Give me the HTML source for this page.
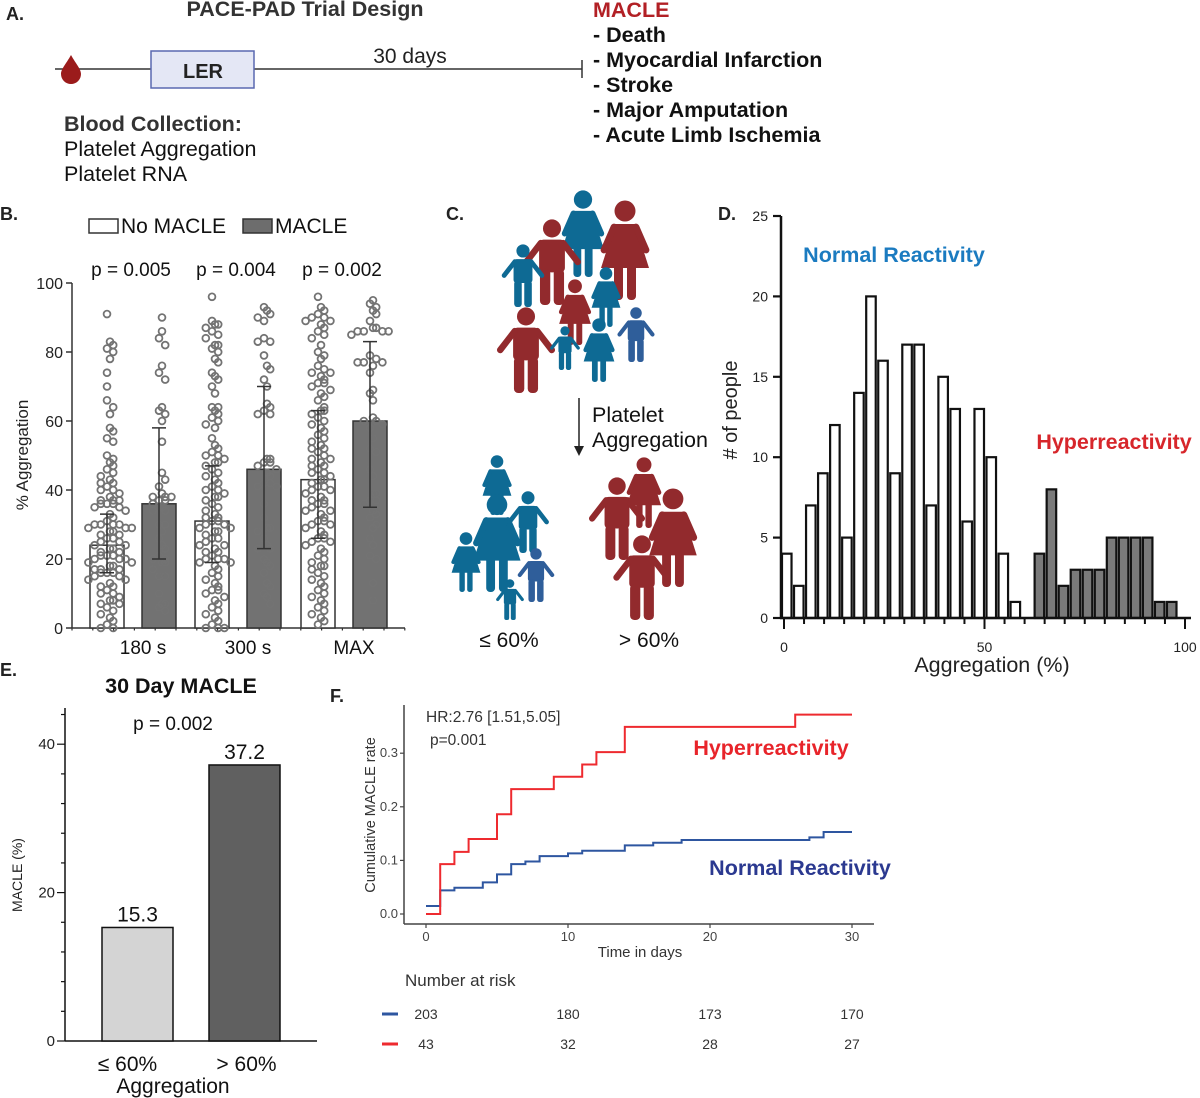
<!DOCTYPE html>
<html><head><meta charset="utf-8"><style>
html,body{margin:0;padding:0;background:#fff}
svg{display:block;font-family:"Liberation Sans",sans-serif}
</style></head><body>
<svg id="fig" width="1200" height="1098" viewBox="0 0 1200 1098" xmlns="http://www.w3.org/2000/svg">
<g id="panelA">
<text x="6" y="20" font-size="18" font-weight="bold" fill="#222">A.</text>
<text x="305" y="16" font-size="21.5" font-weight="bold" fill="#333" text-anchor="middle">PACE-PAD Trial Design</text>
<line x1="55" y1="69" x2="582" y2="69" stroke="#333" stroke-width="1.5"/>
<line x1="582" y1="60" x2="582" y2="78" stroke="#333" stroke-width="1.5"/>
<path d="M71,55 C66,64 61,69 61,74 A10,10 0 0 0 81,74 C81,69 76,64 71,55 Z" fill="#9b1b1b"/>
<rect x="151" y="51" width="103" height="37" fill="#e4e7f5" stroke="#5a68b0" stroke-width="1.5"/>
<text x="203" y="78" font-size="20" font-weight="bold" fill="#222" text-anchor="middle">LER</text>
<text x="410" y="63" font-size="21" fill="#222" text-anchor="middle">30 days</text>
<text x="593" y="17" font-size="21.5" font-weight="bold" fill="#b22025">MACLE</text>
<g font-size="21.5" font-weight="bold" fill="#111">
<text x="593" y="42">- Death</text><text x="593" y="67">- Myocardial Infarction</text><text x="593" y="92">- Stroke</text><text x="593" y="117">- Major Amputation</text><text x="593" y="142">- Acute Limb Ischemia</text></g>
<text x="64" y="131" font-size="21.5" font-weight="bold" fill="#333">Blood Collection:</text>
<text x="64" y="156" font-size="21.5" fill="#111">Platelet Aggregation</text>
<text x="64" y="181" font-size="21.5" fill="#111">Platelet RNA</text>
</g>
<g id="panelB"></g>
<g id="panelC">
<text x="446" y="220" font-size="18" font-weight="bold" fill="#222">C.</text>
<line x1="579" y1="398" x2="579" y2="450" stroke="#222" stroke-width="1.5"/>
<path d="M574,446 L584,446 L579,456 Z" fill="#222"/>
<text x="592" y="422" font-size="21.5" fill="#111">Platelet</text>
<text x="592" y="447" font-size="21.5" fill="#111">Aggregation</text>
<text x="509" y="647" font-size="21" fill="#111" text-anchor="middle">≤ 60%</text>
<text x="649" y="647" font-size="21" fill="#111" text-anchor="middle">&gt; 60%</text>
</g>
<g id="panelD"></g>
<g id="panelE"></g>
<g id="panelF"></g>
</svg>
<script>
// ---------- Panel B data ----------
const bCategories = ["180 s","300 s","MAX"];
const bMeansNo = [24,31,43];
const bMeansMacle = [36,46,60];
const bErrNo = [[16,33],[19,47],[26,63]];
const bErrMacle = [[20,58],[23,70],[35,83]];
const bPvalues = ["p = 0.005","p = 0.004","p = 0.002"];
const bYTicks = [0,20,40,60,80,100];
const dotsNo180 = [91,83,82,81,80,78,74,70,66,64,62,58,57,55,54,50,49,48,47,46,45,44,43,42,42,41,40,40,39,38,37,37,37,36,36,36,35,35,34,33,32,31,30,30,30,30,29,29,29,28,28,27,27,26,26,25,25,24,24,23,23,22,22,21,21,21,20,20,20,19,19,18,18,17,17,17,16,16,16,15,15,14,14,13,12,12,11,10,10,9,8,8,7,7,6,5,4,3,2,1,0,0];
const dotsMacle180 = [90,86,84,82,76,74,72,64,63,62,60,54,45,43,41,39,38,38,38,37,37,36,35,34,34,30,30,28,26,24,23,21,20,20,19,19,17,15,15,10,7,7,6,5];
const dotsNo300 = [96,89,88,88,87,86,85,84,82,82,81,80,78,77,74,73,72,70,68,64,64,63,62,61,60,59,58,55,53,52,51,50,50,49,48,48,47,46,45,44,43,42,41,40,40,39,38,38,37,36,35,34,33,32,32,31,31,30,30,29,29,28,28,27,26,26,25,24,24,23,22,22,21,20,20,20,19,19,18,17,16,15,14,13,12,11,11,10,9,8,7,6,5,4,3,2,1,0,0,0];
const dotsMacle300 = [93,92,91,90,89,84,83,83,79,76,75,72,70,65,64,63,62,62,49,49,48,48,47,46,45,44,42,42,41,41,36,32,29,29,28,26,24,23,23,20,19,18,16,13,12,10,9,7];
const dotsNoMax = [96,93,92,91,90,90,89,89,88,87,86,85,84,82,80,79,78,76,75,74,74,73,72,71,71,70,69,68,67,66,64,63,63,62,61,60,59,58,57,56,55,54,53,52,52,51,50,49,49,48,47,47,46,45,45,44,43,43,42,41,41,40,40,39,38,37,37,36,36,35,34,34,33,32,31,31,30,30,29,28,27,26,26,25,25,24,23,22,21,20,19,18,18,17,16,15,14,13,12,11,10,9,8,7,6,5,4,3,2,1];
const dotsMacleMax = [95,94,93,92,91,89,87,87,86,86,86,86,85,79,78,77,77,77,76,74,69,68,66,61,60,60,59,58,55,52,51,46,44,39,39,37,37,36,34,33,32,30,29,26,24,21,20,13,8];
// ---------- Panel D data ----------
const dBinStart = -0.75, dBinWidth = 3;
const dCountsNormal = [4,2,7,9,12,5,14,20,16,9,17,17,7,15,13,6,13,10,4,1,0];
const dCountsHyper = [4,8,2,3,3,3,5,5,5,5,1,1];
const dYTicks = [0,5,10,15,20,25];
const dXTicks = [0,50,100];
// ---------- Panel E data ----------
const eCategories = ["≤ 60%","> 60%"];
const eValues = [15.3,37.2];
const eYTicks = [0,20,40];
// ---------- Panel F data ----------
const fRedT = [0,1,2,3,5,6,9,11,12,14,26,30];
const fRedV = [0,0.093,0.116,0.14,0.186,0.233,0.256,0.279,0.302,0.349,0.372,0.372];
const fBlueT = [0,1,2,4,5,6,7,8,10,11,14,16,18,27,28,30];
const fBlueV = [0.015,0.044,0.049,0.059,0.074,0.093,0.098,0.108,0.113,0.118,0.128,0.133,0.138,0.143,0.153,0.153];
const fXTicks = [0,10,20,30];
const fYTicks = [0,0.1,0.2,0.3];
const fRiskTimes = [0,10,20,30];
const fRiskNormal = [203,180,173,170];
const fRiskHyper = [43,32,28,27];

const NS="http://www.w3.org/2000/svg";
function mk(parent,tag,attrs,text){const e=document.createElementNS(NS,tag);for(const k in attrs)e.setAttribute(k,attrs[k]);if(text!==undefined)e.textContent=text;parent.appendChild(e);return e;}

// ===== Panel B =====
(function(){
const g=document.getElementById('panelB');
const y=v=>628-v*3.45;
const ax=72, axEnd=405;
const groupX=[[90,142],[195,247],[301,353]], bw=34;
let t;
t=mk(g,'text',{x:0,y:220,'font-size':18,'font-weight':'bold',fill:'#222'},'B.');


t=mk(g,'rect',{x:89,y:219,width:29,height:14,fill:'#fff',stroke:'#333','stroke-width':1.5});


t=mk(g,'text',{x:121,y:233,'font-size':21,fill:'#111'},'No MACLE');


t=mk(g,'rect',{x:243,y:219,width:29,height:14,fill:'#6d6d6d',stroke:'#333','stroke-width':1.5});


t=mk(g,'text',{x:275,y:233,'font-size':21,fill:'#111'},'MACLE');


t=mk(g,'line',{x1:ax,y1:y(100),x2:ax,y2:y(0),stroke:'#333','stroke-width':1.5});


t=mk(g,'line',{x1:ax,y1:y(0),x2:axEnd,y2:y(0),stroke:'#333','stroke-width':1.5});


for(let i=0;i<=16;i++){t=mk(g,'line',{x1:ax+i*20.8,y1:y(0),x2:ax+i*20.8,y2:y(0)+2.5,stroke:'#333','stroke-width':1.2});

}
bYTicks.forEach(v=>{
t=mk(g,'line',{x1:ax-6,y1:y(v),x2:ax,y2:y(v),stroke:'#333','stroke-width':1.5});


t=mk(g,'text',{x:ax-9,y:y(v)+6,'font-size':16,fill:'#222','text-anchor':'end'},String(v));


});
t=mk(g,'text',{x:28,y:455,'font-size':17,fill:'#222','text-anchor':'middle',transform:'rotate(-90 28 455)'},'% Aggregation');


const allDots=[[dotsNo180,dotsMacle180],[dotsNo300,dotsMacle300],[dotsNoMax,dotsMacleMax]];
function swarm(vals,cx,name,binW){
const bins={};
vals.forEach(v=>{const k=Math.round(v/binW);bins[k]=(bins[k]||0)+1;const n=bins[k]-1;
const off=(n%2?1:-1)*Math.ceil(n/2)*6.2;
const c=mk(g,'circle',{cx:cx+off+(n===0&&k%2?3:0),cy:y(v),r:3.4,fill:'none',stroke:'#737373','stroke-width':1.8});

});
}
bCategories.forEach((c,i)=>{
const [xn,xm]=groupX[i];
t=mk(g,'rect',{x:xn,y:y(bMeansNo[i]),width:bw,height:y(0)-y(bMeansNo[i]),fill:'#fff',stroke:'#333','stroke-width':1.5});


t=mk(g,'rect',{x:xm,y:y(bMeansMacle[i]),width:bw,height:y(0)-y(bMeansMacle[i]),fill:'#727272',stroke:'#333','stroke-width':1.5});


swarm(allDots[i][0],xn+bw/2,'dot-no-macle',2.5);
swarm(allDots[i][1],xm+bw/2,'dot-macle',2.6);
[[xn,bErrNo[i]],[xm,bErrMacle[i]]].forEach(([x0,e])=>{
const cx=x0+bw/2;
t=mk(g,'path',{d:`M${cx},${y(e[0])}V${y(e[1])}M${cx-7},${y(e[0])}H${cx+7}M${cx-7},${y(e[1])}H${cx+7}`,stroke:'#333','stroke-width':1.5,fill:'none'});


});
t=mk(g,'text',{x:(xn+xm+bw)/2+10,y:654,'font-size':19,fill:'#111','text-anchor':'middle'},c);


t=mk(g,'text',{x:(xn+xm+bw)/2-2,y:276,'font-size':19,fill:'#111','text-anchor':'middle'},bPvalues[i]);


});
})();

// ===== Panel C people =====
(function(){
const g=document.getElementById('panelC');
const T='#0e6a94',R='#922a2d',B='#2f5e9a';
const people=[
[583,190,87,'w',T],[552,219,86,'m',R],[625,200,100,'w',R],[523,244,63,'m',T],[575,279,66,'w',R],[606,267,60,'w',T],
[526,307,86,'m',R],[565,326,44,'m',T],[599,318,64,'w',T],[636,307,55,'m',B],
[497,455,60,'w',T],[497,494,98,'w',T],[528,491,62,'m',T],[466,532,60,'w',T],[536,548,54,'m',B],[510,579,41,'m',T],
[617,477,83,'m',R],[644,457,71,'w',R],[673,488,99,'w',R],[642,535,85,'m',R]];
people.forEach(p=>{
const [cx,top,h,type,col]=p;
const pg=mk(g,'g',{fill:col,stroke:col});


mk(pg,'circle',{cx:cx,cy:top+h*0.11,r:h*0.105,stroke:'none'});
const sw=h*0.075;
if(type==='m'){
mk(pg,'rect',{x:cx-h*0.15,y:top+h*0.24,width:h*0.3,height:h*0.38,rx:h*0.05,stroke:'none'});
mk(pg,'path',{d:`M${cx-h*0.13},${top+h*0.28}L${cx-h*0.3},${top+h*0.5}M${cx+h*0.13},${top+h*0.28}L${cx+h*0.3},${top+h*0.5}`,'stroke-width':sw,'stroke-linecap':'round',fill:'none'});
mk(pg,'rect',{x:cx-h*0.14,y:top+h*0.58,width:h*0.12,height:h*0.42,rx:h*0.05,stroke:'none'});
mk(pg,'rect',{x:cx+h*0.02,y:top+h*0.58,width:h*0.12,height:h*0.42,rx:h*0.05,stroke:'none'});
}else{
mk(pg,'path',{d:`M${cx-h*0.1},${top+h*0.24}L${cx+h*0.1},${top+h*0.24}L${cx+h*0.24},${top+h*0.68}L${cx-h*0.24},${top+h*0.68}Z`,stroke:'none'});
mk(pg,'path',{d:`M${cx-h*0.11},${top+h*0.27}L${cx-h*0.21},${top+h*0.5}M${cx+h*0.11},${top+h*0.27}L${cx+h*0.21},${top+h*0.5}`,'stroke-width':sw*0.9,'stroke-linecap':'round',fill:'none'});
mk(pg,'rect',{x:cx-h*0.11,y:top+h*0.64,width:h*0.09,height:h*0.36,rx:h*0.04,stroke:'none'});
mk(pg,'rect',{x:cx+h*0.02,y:top+h*0.64,width:h*0.09,height:h*0.36,rx:h*0.04,stroke:'none'});
}
});
})();

// ===== Panel D =====
(function(){
const g=document.getElementById('panelD');
const x=v=>784+v*4.01, y=v=>618-v*16.08;
let t;
t=mk(g,'text',{x:718,y:220,'font-size':18,'font-weight':'bold',fill:'#222'},'D.');


const all=dCountsNormal.map(c=>[c,'n']).concat(dCountsHyper.map(c=>[c,'h']));
all.forEach(([c,type],i)=>{
const x0=x(dBinStart+i*dBinWidth), x1=x(dBinStart+(i+1)*dBinWidth);
t=mk(g,'rect',{x:x0+1,y:y(c),width:x1-x0-2.5,height:y(0)-y(c),fill:type==='n'?'#fff':'#7a7a7a',stroke:'#111','stroke-width':2.2});


});
t=mk(g,'line',{x1:781,y1:y(25),x2:781,y2:y(0)+1,stroke:'#111','stroke-width':2.5});


t=mk(g,'line',{x1:780,y1:y(0),x2:1191,y2:y(0),stroke:'#111','stroke-width':2.5});


dYTicks.forEach(v=>{
t=mk(g,'line',{x1:773,y1:y(v),x2:781,y2:y(v),stroke:'#111','stroke-width':2.2});


t=mk(g,'text',{x:768,y:y(v)+5,'font-size':14,fill:'#222','text-anchor':'end'},String(v));


});
for(let v=0;v<=100;v+=5){
t=mk(g,'line',{x1:x(v),y1:y(0),x2:x(v),y2:y(0)+(v%50?6:11),stroke:'#111','stroke-width':2});

}
dXTicks.forEach(v=>{
t=mk(g,'text',{x:x(v),y:652,'font-size':14,fill:'#222','text-anchor':'middle'},String(v));


});
t=mk(g,'text',{x:992,y:672,'font-size':21.5,fill:'#222','text-anchor':'middle'},'Aggregation (%)');


t=mk(g,'text',{x:737,y:410,'font-size':20,fill:'#222','text-anchor':'middle',transform:'rotate(-90 737 410)'},'# of people');


t=mk(g,'text',{x:894,y:262,'font-size':21.5,'font-weight':'bold',fill:'#1b7bc0','text-anchor':'middle'},'Normal Reactivity');


t=mk(g,'text',{x:1114,y:449,'font-size':21.5,'font-weight':'bold',fill:'#d7262b','text-anchor':'middle'},'Hyperreactivity');


})();

// ===== Panel E =====
(function(){
const g=document.getElementById('panelE');
const y=v=>1041-v*7.42;
const bx=[102,209], bw=71, fills=['#d4d4d4','#606060'];
let t;
t=mk(g,'text',{x:0,y:676,'font-size':18,'font-weight':'bold',fill:'#222'},'E.');


t=mk(g,'text',{x:181,y:693,'font-size':21.5,'font-weight':'bold',fill:'#111','text-anchor':'middle'},'30 Day MACLE');


t=mk(g,'text',{x:173,y:730,'font-size':19,fill:'#111','text-anchor':'middle'},'p = 0.002');


t=mk(g,'line',{x1:65,y1:708,x2:65,y2:y(0),stroke:'#111','stroke-width':1.5});


t=mk(g,'line',{x1:65,y1:y(0),x2:317,y2:y(0),stroke:'#111','stroke-width':1.5});


for(let v=0;v<=44;v+=4){
t=mk(g,'line',{x1:v%20?61:57,y1:y(v),x2:65,y2:y(v),stroke:'#111','stroke-width':1.2});

}
eYTicks.forEach(v=>{
t=mk(g,'text',{x:55,y:y(v)+5,'font-size':15,fill:'#222','text-anchor':'end'},String(v));


});
t=mk(g,'text',{x:22,y:875,'font-size':14,fill:'#222','text-anchor':'middle',transform:'rotate(-90 22 875)'},'MACLE (%)');


eValues.forEach((v,i)=>{
t=mk(g,'rect',{x:bx[i],y:y(v),width:bw,height:y(0)-y(v),fill:fills[i],stroke:'#111','stroke-width':1.5});


t=mk(g,'text',{x:bx[i]+bw/2,y:y(v)-6,'font-size':21,fill:'#111','text-anchor':'middle'},v.toFixed(1));


t=mk(g,'text',{x:bx[i]+bw/2-10+i*12,y:1071,'font-size':21,fill:'#111','text-anchor':'middle'},eCategories[i]);


});
t=mk(g,'text',{x:173,y:1093,'font-size':21,fill:'#111','text-anchor':'middle'},'Aggregation');


})();

// ===== Panel F =====
(function(){
const g=document.getElementById('panelF');
const x=v=>426+v*14.2, y=v=>914-v*536;
let t;
t=mk(g,'text',{x:330,y:702,'font-size':18,'font-weight':'bold',fill:'#222'},'F.');


t=mk(g,'line',{x1:404,y1:705,x2:404,y2:924,stroke:'#444','stroke-width':1.5});


t=mk(g,'line',{x1:404,y1:924,x2:874,y2:924,stroke:'#444','stroke-width':1.5});


fYTicks.forEach(v=>{
t=mk(g,'line',{x1:400,y1:y(v),x2:404,y2:y(v),stroke:'#444','stroke-width':1.2});


t=mk(g,'text',{x:398,y:y(v)+4,'font-size':13,fill:'#444','text-anchor':'end'},v.toFixed(1));


});
fXTicks.forEach(v=>{
t=mk(g,'line',{x1:x(v),y1:924,x2:x(v),y2:928,stroke:'#444','stroke-width':1.2});


t=mk(g,'text',{x:x(v),y:941,'font-size':13,fill:'#444','text-anchor':'middle'},String(v));


});
t=mk(g,'text',{x:640,y:957,'font-size':15,fill:'#333','text-anchor':'middle'},'Time in days');


t=mk(g,'text',{x:375,y:815,'font-size':14.5,fill:'#333','text-anchor':'middle',transform:'rotate(-90 375 815)'},'Cumulative MACLE rate');


function step(T,V){let d=`M${x(T[0])},${y(V[0])}`;for(let i=1;i<T.length;i++){d+=`H${x(T[i])}V${y(V[i])}`;}return d;}
t=mk(g,'path',{d:step(fBlueT,fBlueV),stroke:'#2e56a0','stroke-width':2,fill:'none'});


t=mk(g,'path',{d:step(fRedT,fRedV),stroke:'#ee2a2f','stroke-width':2,fill:'none'});


t=mk(g,'text',{x:426,y:722,'font-size':15.5,fill:'#333'},'HR:2.76 [1.51,5.05]');


t=mk(g,'text',{x:430,y:745,'font-size':15.5,fill:'#333'},'p=0.001');


t=mk(g,'text',{x:771,y:755,'font-size':21.5,'font-weight':'bold',fill:'#e8242a','text-anchor':'middle'},'Hyperreactivity');


t=mk(g,'text',{x:800,y:875,'font-size':21.5,'font-weight':'bold',fill:'#2b3990','text-anchor':'middle'},'Normal Reactivity');


t=mk(g,'text',{x:405,y:986,'font-size':17,fill:'#333'},'Number at risk');


[[fRiskNormal,'#2e56a0',1014,'normal'],[fRiskHyper,'#ee2a2f',1044,'hyper']].forEach(([arr,col,ry,nm])=>{
t=mk(g,'line',{x1:382,y1:ry,x2:398,y2:ry,stroke:col,'stroke-width':3});


arr.forEach((n,i)=>{
t=mk(g,'text',{x:x(fRiskTimes[i]),y:ry+5,'font-size':14,fill:'#333','text-anchor':'middle'},String(n));


});
});
})();
</script>
</body></html>
